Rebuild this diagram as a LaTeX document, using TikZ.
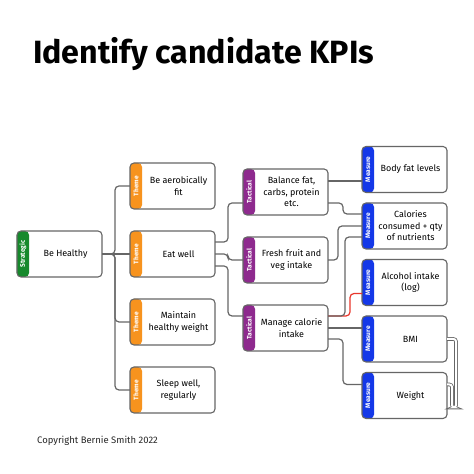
\documentclass[tikz,border=0pt]{standalone}
\usepackage{fontspec}
\setmainfont{Fira Sans}
\usetikzlibrary{calc}
\definecolor{kpigreen}{HTML}{16892C}
\definecolor{kpiorange}{HTML}{F7931E}
\definecolor{kpipurple}{HTML}{8E2A8E}
\definecolor{kpiblue}{HTML}{1438E8}
\definecolor{kpigrey}{HTML}{666666}
\definecolor{kpired}{HTML}{E8372C}

% name, x, y, tab colour, kind, text
\newcommand{\kpicard}[6]{%
  \node[card, tab=#4] (#1) at (#2,#3) {};
  \node[kind] (#1-k) at ([xshift=6bp]#1.west) {#5};
  \node[cardtext] (#1-t) at ([xshift=6bp]#1.center) {#6};}

\begin{document}
\begin{tikzpicture}[x=1bp, y=1bp,
    card/.style={draw=kpigrey, line width=1.1bp, rounded corners=4bp, fill=white,
      minimum width=85bp, minimum height=46bp, inner sep=0pt, outer sep=0pt},
    tab/.style={path picture={\fill[#1] (path picture bounding box.south west)
      rectangle ([xshift=12bp]path picture bounding box.north west);}},
    kind/.style={rotate=90, text=white, font=\fontsize{6.6}{7}\selectfont\bfseries, inner sep=0pt},
    cardtext/.style={align=center, font=\fontsize{9}{11.5}\selectfont, inner sep=0pt},
    link/.style={draw=kpigrey, line width=1.2bp, rounded corners=4bp},
    pair/.style={draw=kpigrey, double=white, line width=0.8bp, double distance=2bp,
      rounded corners=2.5bp}]

  \fill[white] (0,0) rectangle (474,474);
  \useasboundingbox (0,0) rectangle (474,474);

  \node[anchor=base west, inner sep=0pt, font=\fontsize{32.3}{36}\selectfont\bfseries]
    (title) at (33,410) {Identify candidate KPIs};

  \kpicard{strat}{59.5}{220}{kpigreen}{Strategic}{Be Healthy}

  \kpicard{aero}{172.5}{288}{kpiorange}{Theme}{Be aerobically\\fit}
  \kpicard{eat}{172.5}{220}{kpiorange}{Theme}{Eat well}
  \kpicard{weight}{172.5}{152}{kpiorange}{Theme}{Maintain\\healthy weight}
  \kpicard{sleep}{172.5}{84}{kpiorange}{Theme}{Sleep well,\\regularly}

  \kpicard{bal}{285.5}{282}{kpipurple}{Tactical}{Balance fat,\\carbs, protein\\etc.}
  \kpicard{fruit}{285.5}{214}{kpipurple}{Tactical}{Fresh fruit and\\veg intake}
  \kpicard{man}{285.5}{146}{kpipurple}{Tactical}{Manage calorie\\intake}

  \kpicard{fat}{404.5}{304.5}{kpiblue}{Measure}{Body fat levels}
  \kpicard{cal}{404.5}{248}{kpiblue}{Measure}{Calories\\consumed + qty\\of nutrients}
  \kpicard{alc}{404.5}{191.5}{kpiblue}{Measure}{Alcohol intake\\(log)}
  \kpicard{bmi}{404.5}{135}{kpiblue}{Measure}{BMI}
  \kpicard{wt}{404.5}{78.5}{kpiblue}{Measure}{Weight}

  \draw[link] (strat.east) -- ++(13,0) |- (aero.west);
  \draw[link] (strat.east) -- (eat.west);
  \draw[link] (strat.east) -- ++(13,0) |- (weight.west);
  \draw[link] (strat.east) -- ++(13,0) |- (sleep.west);

  \draw[link] ([yshift=12bp]eat.east) -- ++(13,0) |- ([yshift=-11bp]bal.west);
  \draw[link] (eat.east) -- ++(13,0) |- (fruit.west);
  \draw[link] ([yshift=-12bp]eat.east) -- ++(13,0) |- ([yshift=12bp]man.west);

  \draw[link] ([yshift=11bp]bal.east) -- ([yshift=11bp]bal.east -| fat.west);
  \draw[link] ([yshift=-11bp]bal.east) -- ++(15,0) |- ([yshift=12bp]cal.west);
  \draw[link] (fruit.east) -- ++(10,0) |- (cal.west);
  \draw[link, draw=kpired] ([yshift=12bp]man.east) -- ++(22,0) |- ([yshift=-11bp]alc.west);
  \draw[link] ([yshift=12bp]man.east) -- ++(17,0) |- ([yshift=-11bp]cal.west);
  \draw[link] (man.east) -- (man.east -| bmi.west);
  \draw[link] ([yshift=-11bp]man.east) -- ++(15,0) |- ([yshift=11bp]wt.west);

  \draw[pair] (bmi.east) -- ++(9,0) |- ([xshift=5bp, yshift=-12bp]wt.east)
    |- ([yshift=11bp]wt.east);

  \node[anchor=base west, inner sep=0pt, font=\fontsize{9.5}{11}\selectfont, text=black!85]
    (copy) at (37,30) {Copyright Bernie Smith 2022};
\end{tikzpicture}
\end{document}
